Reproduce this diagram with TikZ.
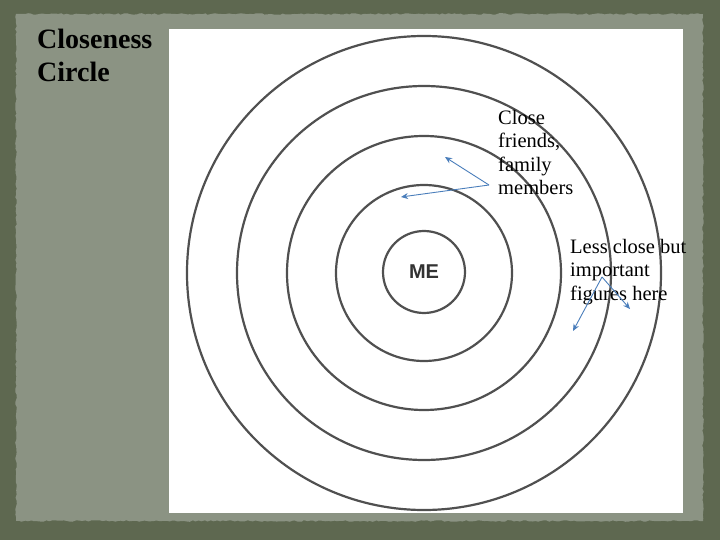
\documentclass[tikz,border=0pt]{standalone}
\usepackage{fontspec}
\setmainfont{Liberation Serif}
\newfontfamily\mefont{Liberation Sans}
\usepackage{xcolor}
\usepackage{tikz}
\usetikzlibrary{positioning,calc,arrows.meta,decorations.pathmorphing}
\definecolor{bgdark}{RGB}{94,104,80}
\definecolor{bgpanel}{RGB}{139,147,131}
\definecolor{ringgray}{RGB}{80,80,80}
\definecolor{arrowblue}{RGB}{74,126,187}

\begin{document}
\begin{tikzpicture}[x=1pt,y=-1pt,
    ring/.style={draw=ringgray, line width=2.2pt},
    note/.style={anchor=base west, align=left, inner sep=0pt, font=\fontsize{20.5}{23.5}\selectfont},
    pointer/.style={draw=arrowblue, line width=0.9pt, -{Stealth[length=7pt,width=6pt]}}]
    \useasboundingbox (0,0) rectangle (720,540);
    
    % Background
    \fill[bgdark] (0,0) rectangle (720,540);
    \fill[bgpanel, decorate, decoration={random steps, segment length=3pt, amplitude=0.8pt}] (16,14) rectangle (703,521);
    \node[anchor=base west, align=left, inner sep=0pt, font=\fontsize{28}{33}\selectfont\bfseries] (title) at (37,82) {Closeness\\Circle};
    
    % Circles
    \fill[white] (169,29) rectangle (683,513);
    \coordinate (centre) at (424,273);
    \foreach \r in {237,187,137,88}
        \draw[ring] (centre) circle[radius=\r];
    \node[ring, circle, minimum size=82pt, inner sep=0pt, text=black!80, font=\mefont\fontsize{20}{20}\selectfont\bfseries] (me) at (424,272) {ME};
    
    % Labels
    \node[note] (close) at (498,195) {Close\\friends,\\family\\members};
    \node[note] (less) at (570,300) {Less close but\\important\\figures here};
    
    % Arrows
    \coordinate (closetail) at (489,185);
    \coordinate (lesstail) at (602,277);
    \draw[pointer] (closetail) -- (445,157);
    \draw[pointer] (closetail) -- (401,197);
    \draw[pointer] (lesstail) -- (573,331);
    \draw[pointer] (lesstail) -- (630,309);
\end{tikzpicture}
\end{document}
